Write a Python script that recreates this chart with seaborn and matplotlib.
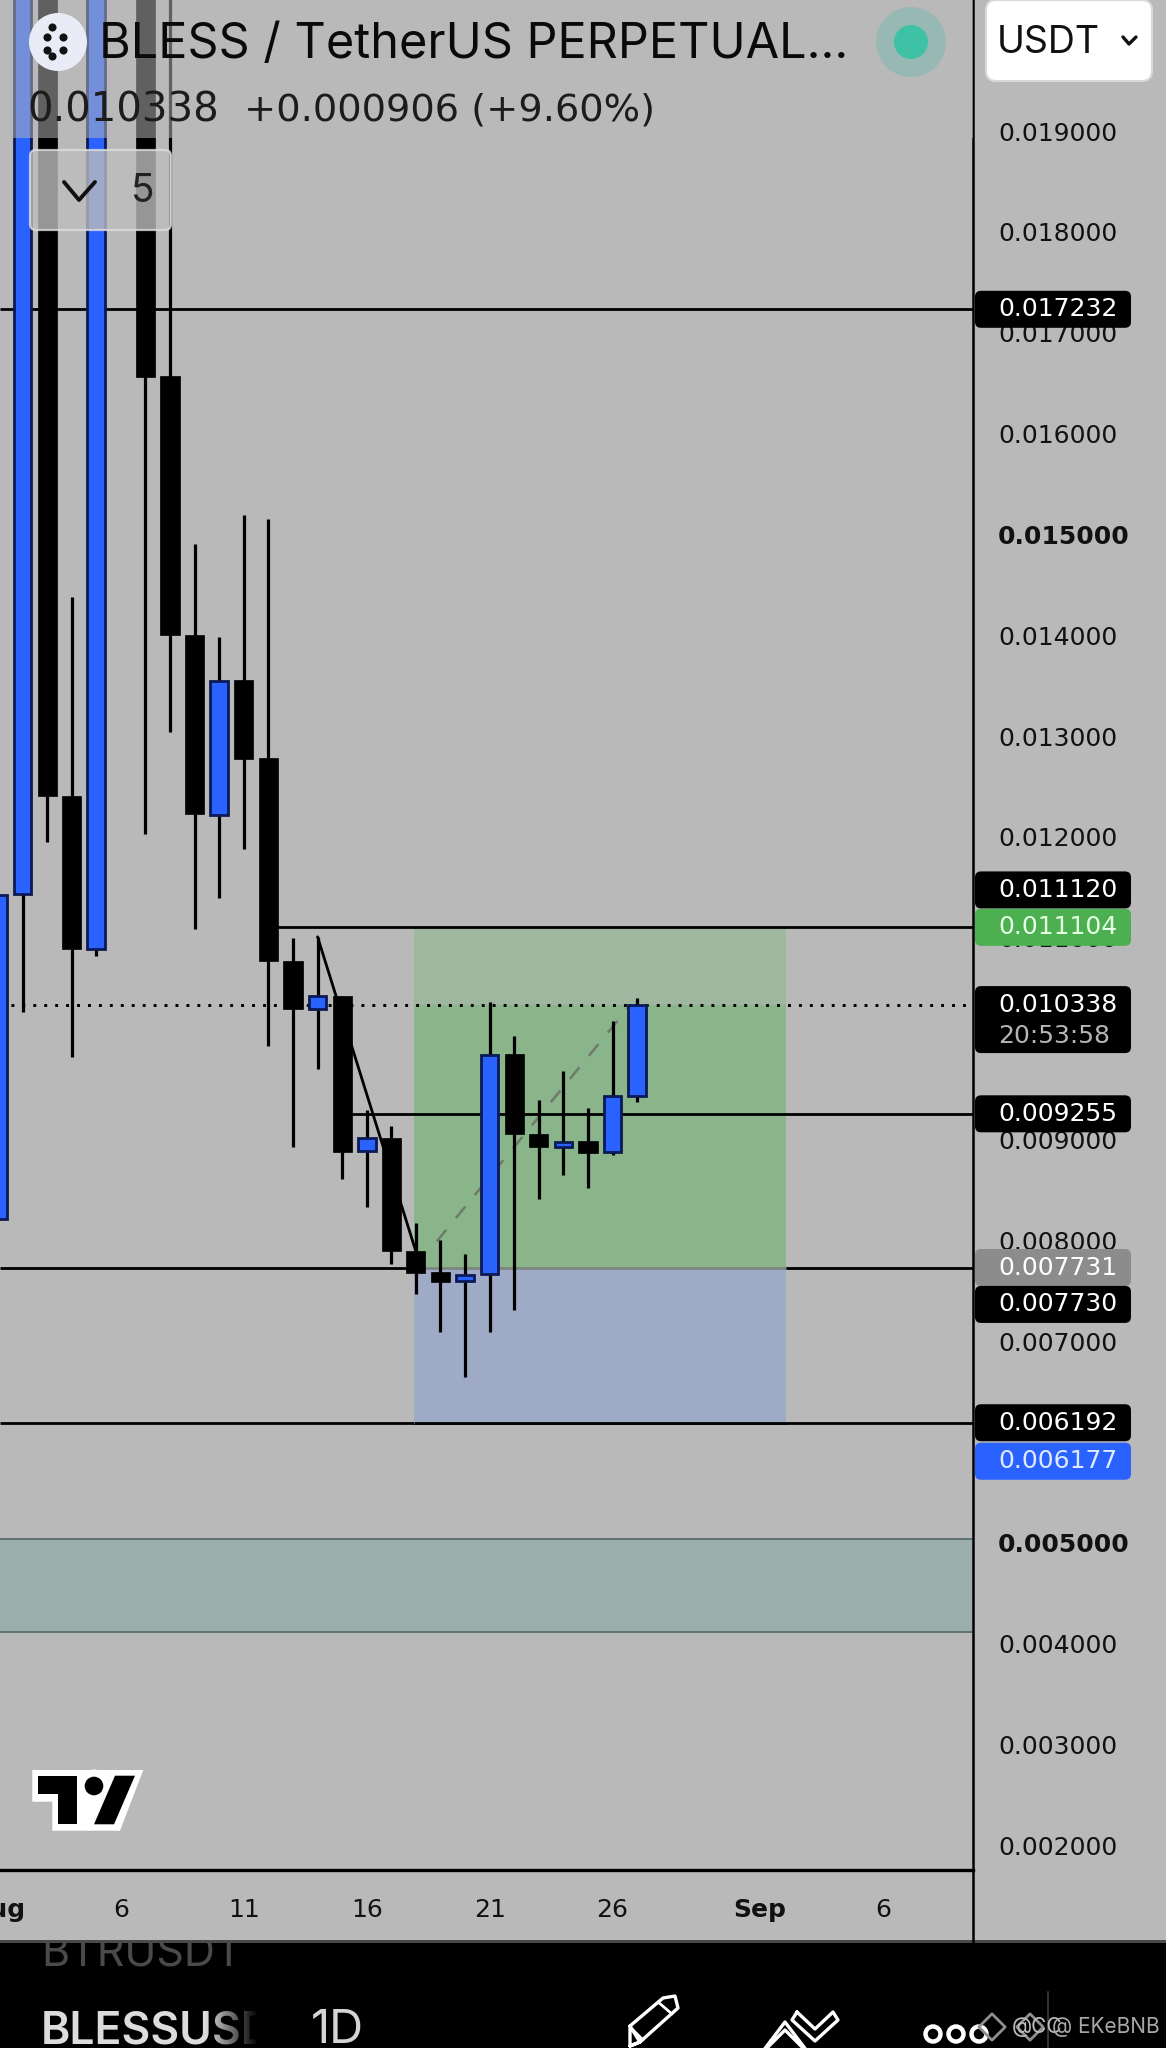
import numpy as np
import pandas as pd
import matplotlib
matplotlib.use("Agg")
import matplotlib.pyplot as plt
from matplotlib.patches import Rectangle, FancyBboxPatch, Circle, Polygon
from matplotlib.colors import LinearSegmentedColormap
import seaborn as sns

# ---------- data (prices in USDT, day numbers counted from 1 Aug) ----------
days   = [1, 2, 3, 4, 5, 7, 8, 9, 10, 11, 12, 13, 14, 15, 16, 17, 18, 19, 20, 21, 22, 23, 24, 25, 26, 27]
opens  = [.008208, .011436, .021000, .012406, .010891, .021000, .016569, .014000, .012218, .013554, .012782, .010772, .010297,
          .010426, .008891, .009020, .007891, .007683, .007594, .007663, .009851, .009059, .008921, .008990, .008881, .009436]
closes = [.011426, .021000, .012406, .010891, .021000, .016559, .014000, .012228, .013545, .012772, .010772, .010297, .010426,
          .008881, .009020, .007891, .007673, .007584, .007653, .009842, .009059, .008921, .008980, .008871, .009436, .010338]
highs  = [.011800, .021000, .021000, .014376, .021000, .021000, .021000, .014901, .013980, .015188, .015149, .011000, .011010,
          .010426, .009297, .009139, .008168, .008000, .007861, .010366, .010030, .009396, .009683, .009317, .010178, .010406]
lows   = [.007900, .010267, .011950, .009822, .010822, .012030, .013040, .011089, .011391, .011881, .009931, .008921, .009703,
          .008604, .008327, .007762, .007465, .007089, .006644, .007089, .007307, .008406, .008653, .008515, .008851, .009376]

price_ticks = [.019, .018, .017, .016, .015, .014, .013, .012, .011, .010, .009, .008, .007, .006, .005, .004, .003, .002]
bold_prices = [.015, .005]
hidden_prices = [.010, .006]
day_ticks  = [6, 11, 16, 21, 26, 32, 37]
day_labels = ["6", "11", "16", "21", "26", "Sep", "6"]

level_17232 = 0.017232
level_11120 = 0.011120
level_9255  = 0.009255
level_7730  = 0.007730
level_6192  = 0.006192
last_price  = 0.010338
target      = 0.011104
entry       = 0.007731
stop        = 0.006177
band_low, band_high = 0.00412, 0.00504
zone_days = (17.94, 33.04)
level_11120_start = 12.3
level_9255_start = 15.2
trend_days, trend_prices = [14, 18], [0.01101, 0.00789]
dash_days, dash_prices = [18.85, 26.75], [0.00799, 0.01034]

tags = [
    ("0.017232", "#000000", "#ffffff"),
    ("0.011120", "#000000", "#ffffff"),
    ("0.011104", "#4caf50", "#e4ffe4"),
    ("0.009255", "#000000", "#ffffff"),
    ("0.007731", "#8c8c8c", "#ffffff"),
    ("0.007730", "#000000", "#ffffff"),
    ("0.006192", "#000000", "#ffffff"),
    ("0.006177", "#2962ff", "#dfe8ff"),
]
tag_prices = [level_17232, 0.011475, 0.011104, level_9255, entry, 0.007365, level_6192, 0.005810]

# ---------- colours ----------
BG = "#b9b9b9"
BLUE = "#2962ff"
NAVY = "#0b1a55"
NUM = "DejaVu Sans"

sns.set_theme(style="white", rc={"axes.facecolor": BG, "figure.facecolor": BG})
plt.rcParams["font.family"] = ["Inter", "DejaVu Sans"]

W, H = 1166, 2048
fig = plt.figure(figsize=(W / 100, H / 100), dpi=100)
ax = fig.add_axes([0, 1 - 1870 / H, 973 / W, 1870 / H])

df = pd.DataFrame({"day": days, "open": opens, "close": closes, "high": highs, "low": lows})
df["bottom"] = df[["open", "close"]].min(axis=1)
df["body"] = (df["close"] - df["open"]).abs()
up = df[df["close"] > df["open"]]
down = df[df["close"] <= df["open"]]

# horizontal levels
xl = (1.081, 40.665)
ax.hlines([level_17232, level_7730, level_6192], xl[0], xl[1], color="black", lw=2.0, zorder=1)
ax.hlines(target, level_11120_start, xl[1], color="black", lw=2.0, zorder=2.2)
ax.hlines(level_9255, level_9255_start, xl[1], color="black", lw=2.0, zorder=2.2)
ax.hlines(last_price, xl[0], xl[1], color="black", lw=2.1, linestyles=(0, (1, 2.75)), zorder=2.2)

# teal band
ax.axhspan(band_low, band_high, facecolor="#9aafac", edgecolor="none", lw=0, zorder=1)
ax.hlines([band_low, band_high], xl[0], xl[1], color="#5d6c6a", lw=1.3, zorder=1.1)

# long-position zones
ax.fill_between(zone_days, last_price, target, color="#9fb69f", lw=0, zorder=1.5)
ax.fill_between(zone_days, entry, last_price, color="#8ab48a", lw=0, zorder=1.5)
ax.fill_between(zone_days, stop, entry, color="#9eaac6", lw=0, zorder=1.5)
ax.hlines(entry, zone_days[0], zone_days[1], color="#7c857e", lw=2.0, zorder=1.6)
ax.hlines(level_6192, zone_days[0], zone_days[1], color="black", lw=2.0, zorder=1.6)

# drawings
sns.lineplot(x=dash_days, y=dash_prices, ax=ax, color="#6d7a6d", lw=1.8, linestyle=(0, (6, 6)), zorder=2.1)
sns.lineplot(x=trend_days, y=trend_prices, ax=ax, color="black", lw=2.0, zorder=2.3)

# candles
ax.vlines(df["day"], df["low"], df["high"], color="black", lw=2.3, zorder=2.5)
sns.barplot(data=down, x="day", y="body", bottom=down["bottom"], native_scale=True, ax=ax, width=0.78,
            color="black", saturation=1, edgecolor="black", linewidth=0.5, errorbar=None, zorder=3)
sns.barplot(data=up, x="day", y="body", bottom=up["bottom"], native_scale=True, ax=ax, width=0.72,
            color=BLUE, saturation=1, edgecolor=NAVY, linewidth=2.0, errorbar=None, zorder=3)

# axes
ax.set_xlim(*xl)
ax.set_ylim(0.001757, 0.020299)
ax.set_xlabel("")
ax.set_ylabel("")
ax.yaxis.tick_right()
ax.set_yticks(price_ticks)
ax.set_yticklabels([f"{p:.6f}" if p not in hidden_prices else "" for p in price_ticks])
ax.tick_params(axis="y", length=0, pad=18, labelsize=18, labelcolor="#111111")
for lab, p in zip(ax.get_yticklabels(), price_ticks):
    lab.set_fontfamily(NUM)
    if p in bold_prices:
        lab.set_fontweight("bold")
ax.set_xticks(day_ticks)
ax.set_xticklabels(day_labels)
ax.tick_params(axis="x", length=0, pad=20, labelsize=18, labelcolor="#111111")
for lab, d in zip(ax.get_xticklabels(), day_ticks):
    lab.set_fontfamily(NUM)
    if d == 32:
        lab.set_fontweight("bold")
ax.annotate("Aug", xy=(1, 0), xycoords=("data", "axes fraction"), xytext=(0, -20), textcoords="offset points",
            ha="center", va="top", fontsize=18, fontweight="bold", color="#111111", annotation_clip=False, family=NUM)
for s in ("top", "left"):
    ax.spines[s].set_visible(False)
ax.spines["right"].set_color("black")
ax.spines["right"].set_linewidth(1.8)
ax.spines["bottom"].set_color("black")
ax.spines["bottom"].set_linewidth(2.4)

# ---------- overlay in pixels for the app chrome ----------
ov = fig.add_axes([0, 0, 1, 1], facecolor="none", zorder=5)
ov.set_xlim(0, W)
ov.set_ylim(H, 0)
ov.axis("off")


def py(price):
    disp = ax.transData.transform((xl[0], price))
    return ov.transData.inverted().transform(disp)[1]


# header veil over the candles
ov.add_patch(Rectangle((0, 0), 973, 138, fc=BG, ec="none", alpha=0.52))
ov.add_patch(FancyBboxPatch((30, 150), 141, 80, boxstyle="round,pad=0,rounding_size=6", fc="#bdbdbd",
                            ec="#dedede", lw=1.6, alpha=0.8))
ov.plot([64, 79, 95], [182, 200, 182], color="#111111", lw=2.8, solid_capstyle="round")
ov.text(143, 191, "5", fontsize=28, color="#222222", ha="center", va="center")

# logo + titles
ov.add_patch(Circle((58, 42), 29, fc="#e9ebf6", ec="none"))
ov.scatter([52, 47, 63, 47, 63, 52], [27, 37, 37, 50, 50, 56], s=34, c="#111111", marker="o", lw=0)
ov.text(99, 45, "BLESS / TetherUS PERPETUAL...", fontsize=35, color="#0a0a0a", ha="left", va="center")
ov.text(27, 111, "0.010338", fontsize=29, color="#1c1c1c", ha="left", va="center", family=NUM)
ov.text(244, 111, "+0.000906 (+9.60%)", fontsize=27.6, color="#1c1c1c", ha="left", va="center", family=NUM)
ov.add_patch(Circle((911, 42), 35, fc="#98b9b3", ec="none"))
ov.add_patch(Circle((911, 42), 17, fc="#3fc1a5", ec="none"))

# USDT button
ov.add_patch(FancyBboxPatch((986, 0), 166, 81, boxstyle="round,pad=0,rounding_size=10", fc="white", ec="#d8d8d8", lw=1.5))
ov.text(997, 43, "USDT", fontsize=27, color="#111111", ha="left", va="center")
ov.plot([1123, 1129, 1136], [37, 44, 37], color="#111111", lw=2.4, solid_capstyle="round")

# price tags
for (text, bg, fg), p in zip(tags, tag_prices):
    c = py(p)
    ov.add_patch(FancyBboxPatch((975, c - 18.5), 156, 37, boxstyle="round,pad=0,rounding_size=6", fc=bg, ec="none"))
    ov.text(998, c, text, fontsize=18, color=fg, ha="left", va="center", family=NUM)
c = py(last_price)
ov.add_patch(FancyBboxPatch((975, c - 18.5), 156, 67, boxstyle="round,pad=0,rounding_size=6", fc="black", ec="none"))
ov.text(998, c + 0.5, "0.010338", fontsize=18, color="white", ha="left", va="center", family=NUM)
ov.text(998, c + 31, "20:53:58", fontsize=18, color="#b5b5b5", ha="left", va="center", family=NUM)

# TradingView mark
ov.add_patch(Polygon([(32.3, 1770), (143.3, 1770), (120, 1830.7), (52.3, 1830.7), (52.3, 1801.7), (32.3, 1801.7)],
                     closed=True, fc="white", ec="none"))
ov.add_patch(Circle((94, 1786), 16.5, fc="white", ec="none"))
tv_t = [(38.3, 1775.7), (76.7, 1775.7), (76.7, 1824.3), (57.7, 1824.3), (57.7, 1794.3), (38.3, 1794.3)]
tv_v = [(115, 1775.7), (135, 1775.7), (114, 1824.3), (94, 1824.3)]
ov.add_patch(Polygon(tv_t, closed=True, fc="black", ec="none"))
ov.add_patch(Polygon(tv_v, closed=True, fc="black", ec="none"))
ov.add_patch(Circle((94, 1786), 9.3, fc="black", ec="none"))

# bottom black bar
ov.plot([973, 973], [1870, 1942], color="black", lw=1.8)
ov.add_patch(Rectangle((0, 1940), W, 3, fc="#4a4a4a", ec="none"))
ov.add_patch(Rectangle((0, 1943), W, H - 1943, fc="black", ec="none"))
clip = Rectangle((0, 1943), W, H - 1943, transform=ov.transData)
t = ov.text(41, 1966, "BTRUSDT", fontsize=31, color="#4a4a4a", ha="left", va="baseline")
t.set_clip_on(True)
t.set_clip_path(clip)
ov.text(41, 2043, "BLESSUSDT", fontsize=32, color="#dcdcdc", ha="left", va="baseline", fontweight="semibold", clip_on=True)
fade = LinearSegmentedColormap.from_list("fade", [(0, 0, 0, 0), (0, 0, 0, 1)])
ov.imshow(np.linspace(0, 1, 64)[None, :], cmap=fade, extent=(205, 258, 2048, 1990), aspect="auto", zorder=3)
ov.add_patch(Rectangle((257, 1990), 45, 58, fc="black", ec="none", zorder=3))
ov.text(311, 2043, "1D", fontsize=34, color="#d4d4d4", ha="left", va="baseline", zorder=4)
ov.set_xlim(0, W)
ov.set_ylim(H, 0)

# pencil
ov.plot([630, 663, 675, 678, 640, 630, 630, 640, 630], [2026, 1998, 1996, 2008, 2042, 2046, 2026, 2042, 2046],
        color="white", lw=2.4, solid_joinstyle="round", zorder=4)
ov.plot([658, 672], [2002, 2014], color="white", lw=2.0, zorder=4)
ov.plot([631, 643], [2028, 2040], color="white", lw=2.0, zorder=4)
# double chevron
ov.plot([797, 815, 833, 838, 815, 792, 797], [2012, 2029, 2012, 2020, 2041, 2020, 2012], color="white", lw=2.4, zorder=4)
ov.plot([766, 785, 804, 810, 785, 760, 766], [2049, 2030, 2049, 2055, 2022, 2055, 2049], color="white", lw=2.4, zorder=4)
# three dots
for cx in (933, 956, 979):
    ov.add_patch(Circle((cx, 2034), 7.5, fc="none", ec="white", lw=3.2, zorder=4))
# watermark
ov.plot([1048, 1048], [1992, H], color="#333333", lw=1.5, zorder=4)
for cx, cy in ((992, 2027), (1030, 2027)):
    ov.scatter([cx], [cy], marker="D", s=180, facecolor="none", edgecolor="#8f8f8f", lw=2, zorder=5)
ov.text(1012, 2027, "@CC", fontsize=15, color="#bdbdbd", ha="left", va="center", zorder=6)
ov.text(1052, 2027, "@ EKeBNB", fontsize=15, color="#a8a8a8", ha="left", va="center", zorder=6)

fig.savefig("out.png", dpi=100, facecolor=BG)
